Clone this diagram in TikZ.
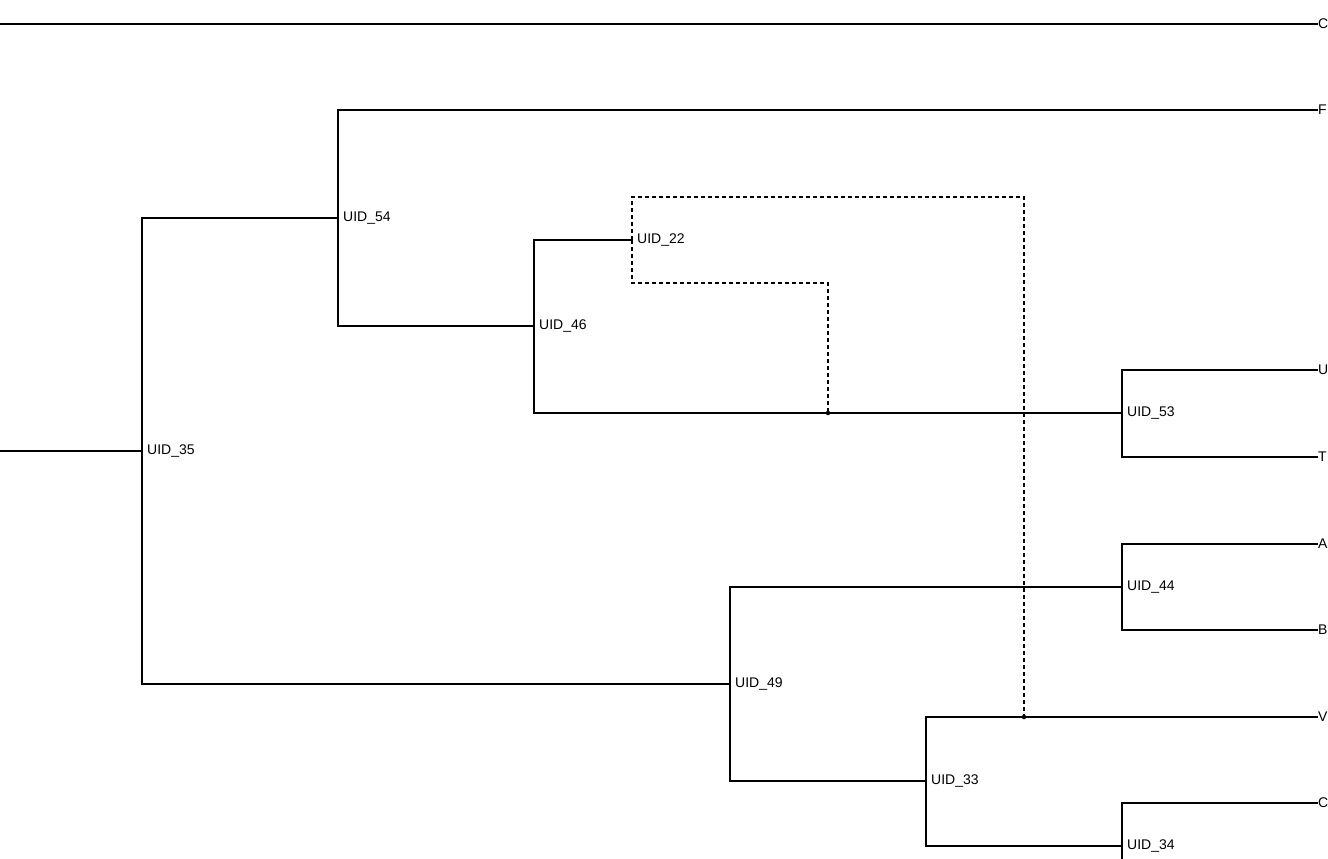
\documentclass[tikz,border=0pt]{standalone}
\usepackage{fontspec}
\setmainfont{Liberation Sans}
\begin{document}
\begin{tikzpicture}[x=1pt,y=-1pt,
  ln/.style={line width=1.6pt},
  dl/.style={line width=1.4pt,dash pattern=on 4pt off 3pt},
  lab/.style={anchor=west,inner sep=0pt,xshift=5pt,font=\fontsize{14}{16}\selectfont},
  leaf/.style={anchor=west,inner sep=0pt,font=\fontsize{14}{16}\selectfont},
  dot/.style={circle,fill,inner sep=0pt,minimum size=4.5pt}]
\useasboundingbox (0,0) rectangle (1328,859);
\clip (0,0) rectangle (1328,859);
% internal node coordinates
\coordinate (r) at (0,451);
\coordinate (n35) at (142,451);
\coordinate (n54) at (338,218);
\coordinate (n46) at (534,326);
\coordinate (n22) at (632,240);
\coordinate (n53) at (1122,413);
\coordinate (n49) at (730,684);
\coordinate (n44) at (1122,587);
\coordinate (n33) at (926,781);
\coordinate (n34) at (1122,846);
% leaves
\node[leaf] (C1) at (1318,24) {C};
\node[leaf] (F) at (1318,110) {F};
\node[leaf] (U) at (1318,370) {U};
\node[leaf] (T) at (1318,457) {T};
\node[leaf] (A) at (1318,544) {A};
\node[leaf] (B) at (1318,630) {B};
\node[leaf] (V) at (1318,717) {V};
\node[leaf] (C2) at (1318,803) {C};
% labels
\node[lab] at (n35) {UID\_35};
\node[lab] at (n54) {UID\_54};
\node[lab] at (n46) {UID\_46};
\node[lab] at (n22) {UID\_22};
\node[lab] at (n53) {UID\_53};
\node[lab] at (n49) {UID\_49};
\node[lab] at (n44) {UID\_44};
\node[lab] at (n33) {UID\_33};
\node[lab] at (n34) {UID\_34};
% tree
\draw[ln] (0,24) -- (C1.west);
\draw[ln] (r) -- (n35);
\draw[ln] (n54) -| (142,684) -- (n49);
\draw[ln] (142,218) -- (n35);
\draw[ln] (F.west) -| (338,326) -- (n46);
\draw[ln] (n54) -- (338,218);
\draw[ln] (n22) -| (534,413) -- (n53);
\draw[ln] (U.west) -| (1122,457) -- (T.west);
\draw[ln] (A.west) -| (1122,630) -- (B.west);
\draw[ln] (n44) -| (730,781) -- (n33);
\draw[ln] (V.west) -| (926,846) -- (n34);
\draw[ln] (C2.west) -| (1122,880);
% reticulation
\draw[dl] (n22) -- (632,283) -| (828,413) node[dot]{};
\draw[dl] (n22) -- (632,197) -| (1024,717) node[dot]{};
\end{tikzpicture}
\end{document}
